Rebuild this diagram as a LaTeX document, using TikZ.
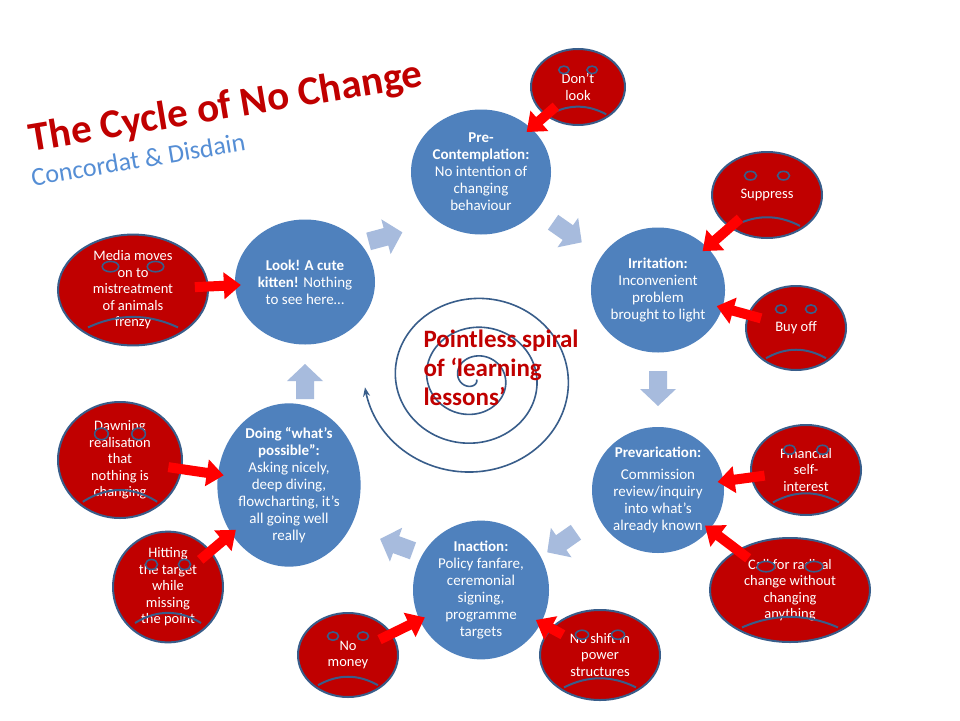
\documentclass[tikz,border=0pt]{standalone}
\usepackage{fontspec}
\setmainfont{Carlito}
\usetikzlibrary{shapes.geometric,arrows.meta}
\definecolor{cblue}{HTML}{4F81BD}
\definecolor{cline}{HTML}{385D8A}
\definecolor{cred}{HTML}{C00000}
\definecolor{clight}{HTML}{A7BBDD}
\definecolor{ctitle}{HTML}{C00000}
\definecolor{csub}{HTML}{558ED5}
\tikzset{
  stage/.style={ellipse,fill=cblue,draw=none,text=white,align=center,inner sep=0pt,font=\fontsize{15}{17}\selectfont},
  face/.style={ellipse,fill=cred,draw=cline,line width=2pt,text=white,align=center,inner sep=0pt,font=\fontsize{14.5}{16.5}\selectfont},
  eye/.style={draw=cline,line width=1.6pt,fill=cred},
  mouth/.style={draw=cline,line width=2pt},
  redarrow/.style={draw=red,line width=10pt,-{Triangle[length=17pt,width=26pt]},shorten <=-14pt,shorten >=-6pt},
  spiral/.style={draw=cline,line width=1.6pt,line join=round},
  chev/.pic={\fill[clight] (-17,-9) -- (1,-9) -- (1,-18) -- (18,0) -- (1,18) -- (1,9) -- (-17,9) -- cycle;}
}
\newcommand\myface[6]{%
  \node[face,minimum width=2*#4pt,minimum height=2*#5pt] (#1) at (#2,#3) {#6};
  \draw[eye] ({#2-0.3*#4},{#3-0.45*#5}) ellipse ({0.11*#4} and {0.1*#5});
  \draw[eye] ({#2+0.3*#4},{#3-0.45*#5}) ellipse ({0.11*#4} and {0.1*#5});
  \draw[mouth] ({#2-0.6*#4},{#3+0.72*#5}) .. controls ({#2-0.2*#4},{#3+0.45*#5}) and ({#2+0.2*#4},{#3+0.45*#5}) .. ({#2+0.6*#4},{#3+0.72*#5});
}
\begin{document}
\begin{tikzpicture}[x=1pt,y=-1pt]
\useasboundingbox (0,0) rectangle (960,720);
\fill[white] (0,0) rectangle (960,720);
% title
\node[rotate=9.5,text=ctitle,font=\fontsize{41}{45}\selectfont\bfseries] (title) at (226,108) {The Cycle of No Change};
\node[rotate=9.5,text=csub,font=\fontsize{26}{30}\selectfont,anchor=west] (sub) at (28,178) {Concordat \& Disdain};
% stages
\node[stage,minimum width=140pt,minimum height=125pt] (s1) at (481,172) {\textbf{Pre-}\\\textbf{Contemplation:}\\No intention of\\changing\\behaviour};
\node[stage,minimum width=130pt,minimum height=125pt] (s2) at (658,290) {\textbf{Irritation:}\\Inconvenient\\problem\\brought to light};
\node[stage,minimum width=132pt,minimum height=126pt] (s3) at (658,490) {\textbf{Prevarication:}\\[5pt]Commission\\review/inquiry\\into what’s\\already known};
\node[stage,minimum width=136pt,minimum height=126pt] (s4) at (481,590) {\textbf{Inaction:}\\Policy fanfare,\\ceremonial\\signing,\\programme\\targets};
\node[stage,minimum width=132pt,minimum height=150pt] (s5) at (289,485) {\textbf{Doing “what’s}\\\textbf{possible”:}\\Asking nicely,\\deep diving,\\flowcharting, it’s\\all going well\\really};
\node[stage,minimum width=140pt,minimum height=125pt] (s6) at (305,282) {\textbf{Look! A cute}\\\textbf{kitten!} Nothing\\to see here…};
% chevrons
\pic[rotate=15] at (385,237) {chev};
\pic[rotate=-35] at (567,232) {chev};
\pic[rotate=-90] at (658,388) {chev};
\pic[rotate=-145] at (562,542) {chev};
\pic[rotate=160] at (397,545) {chev};
\pic[rotate=90] at (305,382) {chev};
% spiral
\draw[spiral,-{Stealth[length=9pt,width=7pt]}] plot[domain=0.6:21.9,samples=260,smooth] ({474+5.0*\x*cos(\x r)},{378+4.6*\x*sin(\x r)});
\node[text=cred,font=\fontsize{25}{29}\selectfont\bfseries,align=left,anchor=north west] (sp) at (420,326) {Pointless spiral\\of ‘learning\\lessons’};
% faces
\myface{f1}{578}{87}{47}{38}{Don’t\\look}
\myface{f2}{767}{195}{55}{43}{Suppress}
\myface{f3}{796}{328}{50}{42}{Buy off}
\myface{f4}{806}{470}{55}{45}{Financial\\self-\\interest}
\myface{f5}{790}{590}{80}{52}{Call for radical\\change without\\changing\\anything}
\myface{f6}{600}{655}{60}{45}{No shift in\\power\\structures}
\myface{f7}{348}{655}{50}{42}{No\\money}
\myface{f8}{168}{587}{55}{50}{Hitting\\the target\\while\\missing\\the point}
\myface{f9}{120}{460}{62}{58}{Dawning\\realisation\\that\\nothing is\\changing}
\myface{f10}{133}{290}{75}{52}{Media moves\\on to\\mistreatment\\of animals\\frenzy}
% red arrows
\draw[redarrow] (f1) -- (s1);
\draw[redarrow] (f2) -- (s2);
\draw[redarrow] (f3) -- (s2);
\draw[redarrow] (f4) -- (s3);
\draw[redarrow] (f5) -- (s3);
\draw[redarrow] (f6) -- (s4);
\draw[redarrow] (f7) -- (s4);
\draw[redarrow] (f8) -- (s5);
\draw[redarrow] (f9) -- (s5);
\draw[redarrow] (f10) -- (s6);
\end{tikzpicture}
\end{document}
